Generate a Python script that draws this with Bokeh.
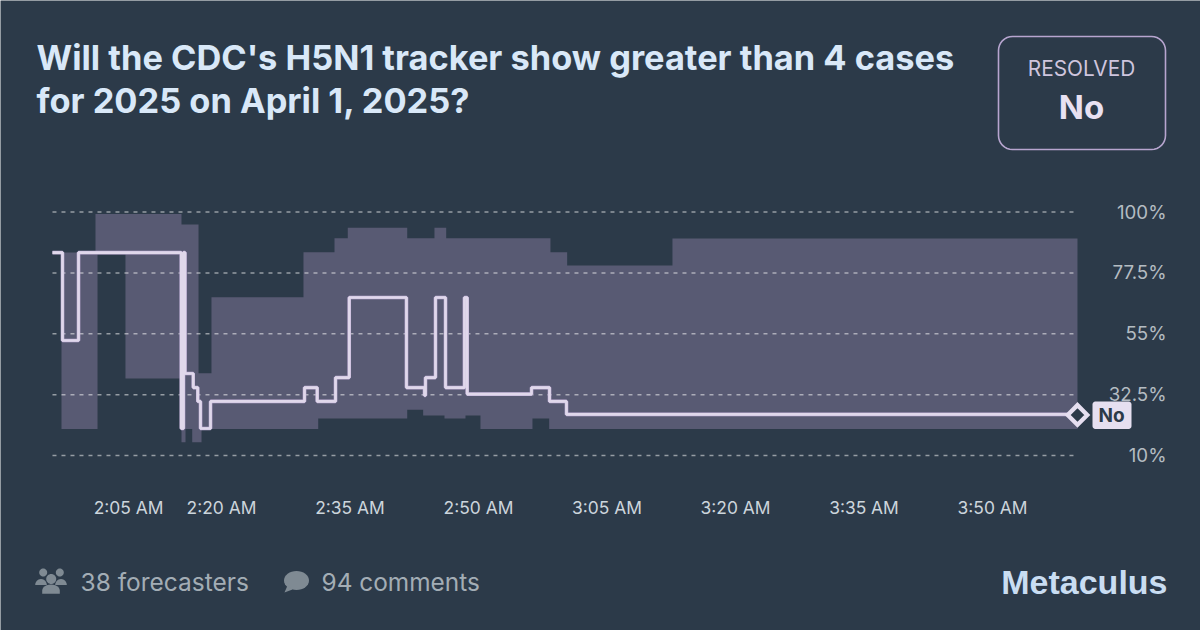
from bokeh.embed import file_html
from bokeh.resources import INLINE
from bokeh.plotting import figure
from bokeh.models import Label, PolyAnnotation, Range1d
import math

# --- data: minutes after 2:00 AM, probability in percent ---
band_t = [1.32, 5.29, 5.53, 8.79, 15.33, 15.8, 16.58, 17.32, 17.67, 18.83, 29.57, 31.29, 33.19,
          34.74, 41.68, 43.54, 44.86, 46.03, 46.23, 48.48, 50.23, 56.3, 58.25, 58.4, 60.35, 72.64, 119.92]
band_upper = [85, 99.3, 99.3, 99.3, 95.4, 95.4, 95.4, 40.4, 40.4, 68.5, 85.1, 85.1, 90.3,
              94.2, 90.3, 90.3, 94.2, 94.2, 90.3, 90.3, 90.3, 90.3, 90.3, 85.1, 80.2, 90.2, 90.2]
band_lower = [19.8, 19.8, 84.3, 38.5, 14.9, 19.8, 14.9, 14.9, 19.8, 19.8, 19.8, 23.7, 23.7,
              23.7, 26.9, 24.8, 24.8, 23.7, 23.7, 24.8, 19.8, 23.7, 19.8, 19.8, 19.8, 19.8, 19.8]
line_t = [0.27, 1.44, 3.31, 15.3, 15.56, 15.74, 16.7, 17.23, 17.55, 18.72, 29.69, 31.17, 33.31,
          34.91, 41.59, 43.7, 43.81, 44.98, 46.15, 48.36, 48.68, 56.19, 58.29, 60.27, 119.92]
line_p = [85, 52.5, 85, 20, 85, 40.3, 35.1, 30, 20, 30, 35.1, 30, 38.8,
          68.4, 35.1, 32.2, 38.8, 68.4, 35.1, 68.4, 32.7, 35.1, 30, 25.2, 25]
y_ticks = [10, 32.5, 55, 77.5, 100]
y_labels = ["10%", "32.5%", "55%", "77.5%", "100%"]
x_ticks = [9.15, 20, 35, 50, 65, 80, 95, 110]
x_labels = ["2:05 AM", "2:20 AM", "2:35 AM", "2:50 AM", "3:05 AM", "3:20 AM", "3:35 AM", "3:50 AM"]
final_t, final_p, final_label = 119.92, 25, "No"

BG = "#2c3a49"
W, H = 1200, 630
FONT = "Inter"
PX_PER_MIN, PX_PER_PCT = 128.5 / 15, 243.5 / 90

def sx(x): return x
def sy(y): return H - y

# the frame fills the page, so that page pixels and screen units agree
p = figure(width=W, height=H, output_backend="svg", toolbar_location=None,
           x_range=Range1d(20 - 221 / PX_PER_MIN, 20 + 979 / PX_PER_MIN),
           y_range=Range1d(10 - 175 / PX_PER_PCT, 10 + 455 / PX_PER_PCT),
           background_fill_color=BG, border_fill_color=BG, outline_line_color=None,
           min_border=0, x_axis_location=None, y_axis_location=None)
p.grid.visible = False

p.varea_step(x=band_t, y1=band_upper, y2=band_lower, step_mode="after",
             fill_color="#585a73", fill_alpha=1)
grid = p.segment(x0=[line_t[0]] * len(y_ticks), x1=[final_t] * len(y_ticks), y0=y_ticks, y1=y_ticks,
                 line_color="#ffffff", line_alpha=0.5, line_width=1.5)
grid.glyph.line_dash = [4, 5]
p.step(line_t, line_p, mode="after", line_color="#bfaed6", line_width=3.6)
p.step(line_t, line_p, mode="after", line_color="#e0d8eb", line_width=2.6)
dx, dy = 9.8 / PX_PER_MIN, 9.8 / PX_PER_PCT
p.patch([final_t - dx, final_t, final_t + dx, final_t], [final_p, final_p + dy, final_p, final_p - dy],
        fill_color=BG, line_color="#e6dff0", line_width=4.3, line_join="miter")

def text(t, x, y, size, color, weight="normal", align="left", font=FONT, **kw):
    p.add_layout(Label(x=sx(x), y=sy(y), x_units="screen", y_units="screen", text=t, text_font=font,
                       text_font_size=f"{size}px", text_color=color, text_font_style=weight,
                       text_align=align, text_baseline="middle", **kw))

def poly(pts, color="#7f8a93", **kw):
    style = dict(fill_color=color, fill_alpha=1, line_color=None)
    style.update(kw)
    p.add_layout(PolyAnnotation(xs=[sx(a) for a, b in pts], ys=[sy(b) for a, b in pts],
                                xs_units="screen", ys_units="screen", **style))

def ell(cx, cy, rx, ry, a0=0, a1=360, n=32):
    return [(cx + rx * math.cos(math.radians(a0 + (a1 - a0) * i / n)),
             cy + ry * math.sin(math.radians(a0 + (a1 - a0) * i / n))) for i in range(n + 1)]

def round_rect(x0, y0, x1, y1, r):
    return (ell(x1 - r, y0 + r, r, r, -90, 0, 8) + ell(x1 - r, y1 - r, r, r, 0, 90, 8) +
            ell(x0 + r, y1 - r, r, r, 90, 180, 8) + ell(x0 + r, y0 + r, r, r, 180, 270, 8))

for tick, lab in zip(y_ticks, y_labels):
    p.add_layout(Label(x=sx(1166), x_units="screen", y=tick, y_units="data", text=lab, text_font=FONT,
                       text_font_size="18.7px", text_color="#b4bcc2", text_align="right", text_baseline="middle"))
for tick, lab in zip(x_ticks, x_labels):
    p.add_layout(Label(x=tick, x_units="data", y=sy(507), y_units="screen", text=lab, text_font=FONT,
                       text_font_size="17.4px", text_color="#ccd5dc", text_align="center", text_baseline="middle"))

text("Will the CDC's H5N1 tracker show greater than 4 cases", 36, 57, 34.4, "#d9e8f8", "bold")
text("for 2025 on April 1, 2025?", 36, 100, 34.4, "#d9e8f8", "bold")

poly(round_rect(998, 36, 1165, 149, 14), fill_alpha=0, line_color="#b7a5cf", line_alpha=1, line_width=1.6)
text("RESOLVED", 1081, 68, 20.8, "#cfc5de", align="center")
text("No", 1081, 106, 33, "#e8e1f2", "bold", align="center")

poly(round_rect(1092, 401, 1131, 428.5, 3), color="#e6dff0")
text(final_label, 1111, 415, 19, "#2c3a49", "bold", align="center")

text("38 forecasters", 80, 581, 24.5, "#a3adb5")
text("94 comments", 321, 581, 24.4, "#a3adb5")
text("Metaculus", 1167, 581, 34, "#c9ddf2", "bold", align="right", font="Liberation Sans")

# people icon
poly(ell(42.7, 572, 4, 4)); poly(ell(59.3, 572, 4, 4)); poly(ell(50.7, 578.5, 5, 5))
poly(ell(40.5, 584.5, 5.8, 6, 180, 360, 12)); poly(ell(60.5, 584.5, 5.8, 6, 180, 360, 12))
poly(ell(50.5, 590, 8.8, 6, 180, 360, 12) + [(59.3, 593.3), (41.7, 593.3)])
# comment icon
poly(ell(296, 580, 12.5, 9.5))
poly([(287, 585), (292, 589), (284, 592)])

open("out.html", "w").write(file_html(p, INLINE))
